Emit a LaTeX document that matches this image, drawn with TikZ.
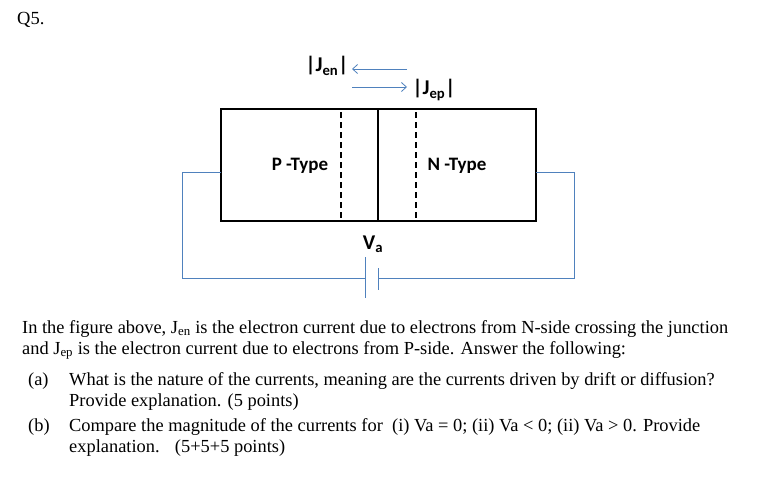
\documentclass[tikz,border=0pt]{standalone}
\usepackage{fontspec}
\usetikzlibrary{arrows.meta}
\setmainfont{Liberation Serif}
\setsansfont{Carlito}
\begin{document}
\begin{tikzpicture}[x=1pt,y=-1pt,
  txt/.style={anchor=base west,inner sep=0,font=\fontsize{18.4}{20}\selectfont},
  lbl/.style={inner sep=0,font=\sffamily\bfseries\fontsize{19}{21}\selectfont},
  big/.style={lbl,font=\sffamily\bfseries\fontsize{21}{23}\selectfont},
  wire/.style={draw={rgb,255:red,79;green,129;blue,189},line width=0.8pt},
  arr/.style={wire,-{Straight Barb[length=5pt,width=9pt]}},
  body/.style={draw,line width=1.8pt},
  dashln/.style={draw,line width=1.3pt,dash pattern=on 6pt off 4pt}]
\useasboundingbox (0,0) rectangle (764,482);
\node[txt,font=\fontsize{18.5}{20}\selectfont] (q) at (17,24) {Q5.};
% device
\draw[body] (221,109) rectangle (536,221);
\draw[body] (378,109) -- (378,221);
\draw[dashln] (341,112) -- (341,221);
\draw[dashln] (416,112) -- (416,221);
\coordinate (L) at (221,172);
\coordinate (R) at (536,172);
\node[lbl] (p) at (300,166) {P -Type};
\node[lbl] (n) at (457,166) {N -Type};
\node[big] (va) at (373,244) {V\textsubscript{a}};
% circuit
\coordinate (bl) at (365,257); \coordinate (bl2) at (365,298);
\coordinate (br) at (378,268); \coordinate (br2) at (378,290);
\draw[wire] (L) -- (182,172) -- (182,278) -- (365,278);
\draw[wire] (R) -- (574,172) -- (574,278) -- (378,278);
\draw[wire] (bl) -- (bl2);
\draw[wire] (br) -- (br2);
% currents
\node[big] (jen) at (327,66) {|J\textsubscript{en}|};
\node[big] (jep) at (434,90) {|J\textsubscript{ep}|};
\coordinate (a1) at (407,69); \coordinate (a2) at (352,69);
\coordinate (b1) at (352,87); \coordinate (b2) at (407,87);
\draw[arr] (a1) -- (a2);
\draw[arr] (b1) -- (b2);
% text
\node[txt] (t1) at (22,333) {In the figure above, J\textsubscript{en} is the electron current due to electrons from N-side crossing the junction};
\node[txt] (t2) at (22,354) {and J\textsubscript{ep} is the electron current due to electrons from P-side. Answer the following:};
\node[txt] (a) at (28,385) {\makebox[41pt][l]{(a)}What is the nature of the currents, meaning are the currents driven by drift or diffusion?};
\node[txt] (a2t) at (69,406) {Provide explanation. (5 points)};
\node[txt] (b) at (28,431) {\makebox[41pt][l]{(b)}Compare the magnitude of the currents for \ (i) Va = 0; (ii) Va < 0; (ii) Va > 0. Provide};
\node[txt] (b2t) at (69,452) {explanation. \ \ (5+5+5 points)};
\end{tikzpicture}
\end{document}
